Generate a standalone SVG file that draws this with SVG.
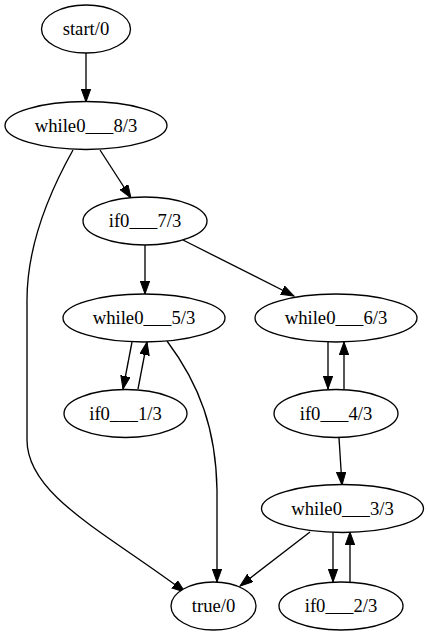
<svg xmlns="http://www.w3.org/2000/svg" width="428" height="635" viewBox="0 0 428 635">
<style>
.n ellipse{fill:#fff;stroke:#000;stroke-width:1.33}
.n text{font-family:"Liberation Serif","Times New Roman",serif;font-size:18.67px;text-anchor:middle;fill:#000}
.e path{fill:none;stroke:#000;stroke-width:1.33;marker-end:url(#ah)}
</style>
<defs>
<marker id="ah" markerUnits="userSpaceOnUse" markerWidth="14" markerHeight="10" refX="13" refY="4.7" orient="auto">
<path d="M0,0 L13,4.7 L0,9.4 z" fill="#000" stroke="#000" stroke-width="1"/>
</marker>
</defs>
<rect width="428" height="635" fill="#fff"/>
<g id="edges" class="e">
<path d="M86,53 L86,102"/>
<path d="M100,150 L131,198"/>
<path d="M73,150 C45,200 27,250 27,300 L27,440 C27,495 105,532 185,592"/>
<path d="M145,245 L145,294"/>
<path d="M183,240 L294,296"/>
<path d="M132,342 L123,389"/>
<path d="M138,389 L147,342"/>
<path d="M167,341 C200,385 216,430 217,490 L217,582"/>
<path d="M328,342 L328,389"/>
<path d="M344,389 L344,342"/>
<path d="M339,438 L342,485"/>
<path d="M310,532 L240,586"/>
<path d="M333,532 L333,582"/>
<path d="M350,582 L350,532"/>
</g>
<g id="start" class="n"><ellipse cx="86" cy="29" rx="44.5" ry="24"/><text x="86" y="35">start/0</text></g>
<g id="while8" class="n"><ellipse cx="86" cy="125.5" rx="81" ry="24"/><text x="86" y="131.5">while0___8/3</text></g>
<g id="if7" class="n"><ellipse cx="145" cy="221" rx="62" ry="24"/><text x="145" y="227">if0___7/3</text></g>
<g id="while5" class="n"><ellipse cx="144" cy="318" rx="81" ry="24"/><text x="144" y="324">while0___5/3</text></g>
<g id="while6" class="n"><ellipse cx="336" cy="318" rx="81" ry="24"/><text x="336" y="324">while0___6/3</text></g>
<g id="if1" class="n"><ellipse cx="125.5" cy="413.5" rx="61.5" ry="24"/><text x="125.5" y="419.5">if0___1/3</text></g>
<g id="if4" class="n"><ellipse cx="336" cy="413.5" rx="62" ry="24"/><text x="336" y="419.5">if0___4/3</text></g>
<g id="while3" class="n"><ellipse cx="342.5" cy="508.5" rx="81" ry="24"/><text x="342.5" y="514.5">while0___3/3</text></g>
<g id="true" class="n"><ellipse cx="213.5" cy="606" rx="42.5" ry="24"/><text x="213.5" y="612">true/0</text></g>
<g id="if2" class="n"><ellipse cx="341" cy="606" rx="62" ry="24"/><text x="341" y="612">if0___2/3</text></g>
</svg>
